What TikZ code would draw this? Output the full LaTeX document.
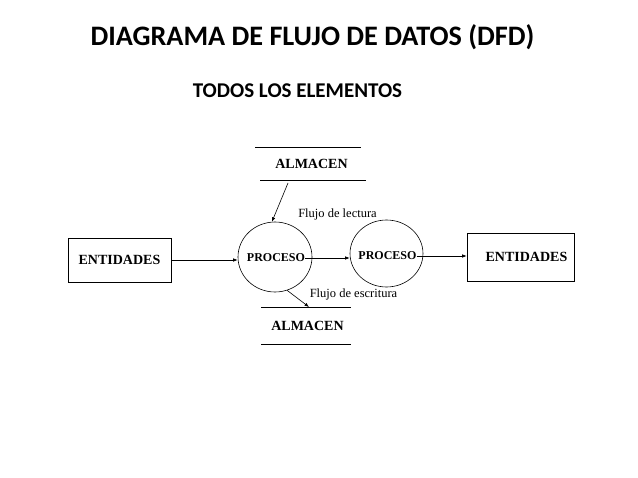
\documentclass[tikz,border=0pt]{standalone}
\usepackage{fontspec}
\setmainfont{Liberation Serif}
\newfontfamily\titlefont{Carlito}
\usetikzlibrary{shapes.geometric,arrows.meta}
\begin{document}
\begin{tikzpicture}[x=1pt,y=-1pt,
  flow/.style={draw, line width=0.6pt, -{Latex[length=4.5pt,width=3.5pt]}},
  entbox/.style={draw, line width=0.6pt, minimum width=103pt, minimum height=44pt, inner sep=0pt, font=\fontsize{14}{16}\selectfont\bfseries},
  procell/.style={draw, ellipse, line width=0.6pt, inner sep=0pt},
  proctext/.style={font=\fontsize{12}{14}\selectfont\bfseries, inner sep=0pt},
  storetext/.style={font=\fontsize{14}{16}\selectfont\bfseries, inner sep=0pt},
  storeline/.style={draw, line width=0.6pt},
  flowlabel/.style={font=\fontsize{12.5}{14}\selectfont, inner sep=0pt}]
\useasboundingbox (0,0) rectangle (638,478);
% titles
\node[font=\titlefont\fontsize{28.2}{30}\selectfont\bfseries, inner sep=0pt] (title) at (312.5,37) {DIAGRAMA DE FLUJO DE DATOS (DFD)};
\node[font=\titlefont\fontsize{21}{23}\selectfont\bfseries, inner sep=0pt] (sub) at (297.5,91) {TODOS LOS ELEMENTOS};
% entities
\node[entbox] (ent1) at (119.5,260) {ENTIDADES};
\node[entbox, minimum width=107pt, minimum height=48pt] (ent2) at (520.5,257) {\hspace{12pt}ENTIDADES};
% processes
\node[procell, minimum width=74pt, minimum height=70pt] (p1) at (275,257) {};
\node[proctext] (t1) at (276,258) {PROCESO};
\node[procell, minimum width=73pt, minimum height=67pt] (p2) at (386.5,253.5) {};
\node[proctext] (t2) at (387.5,256) {PROCESO};
% stores
\node[storetext] (s1) at (311.5,164) {ALMACEN};
\coordinate (s1a) at (255,147);
\coordinate (s1b) at (361,147);
\coordinate (s1c) at (260,180);
\coordinate (s1d) at (366,180);
\draw[storeline] (s1a) -- (s1b);
\draw[storeline] (s1c) -- (s1d);
\coordinate (r0) at (288,183);
\node[storetext] (s2) at (307.5,326) {ALMACEN};
\coordinate (s2a) at (261,307);
\coordinate (s2b) at (351,307);
\coordinate (s2c) at (261,344);
\coordinate (s2d) at (351,344);
\draw[storeline] (s2a) -- (s2b);
\draw[storeline] (s2c) -- (s2d);
\coordinate (w1) at (309,307);
% flows
\draw[flow] (ent1.east) -- (p1.west |- ent1.east);
\draw[flow] (t1.east) -- (p2.west |- t1.east);
\draw[flow] (t2.east) -- (ent2.west |- t2.east);
\draw[flow] (r0) -- (p1.95);
\draw[flow] (p1.-70) -- (w1);
% labels
\node[flowlabel] (l1) at (337.5,214) {Flujo de lectura};
\node[flowlabel] (l2) at (353.5,294) {Flujo de escritura};
\end{tikzpicture}
\end{document}
